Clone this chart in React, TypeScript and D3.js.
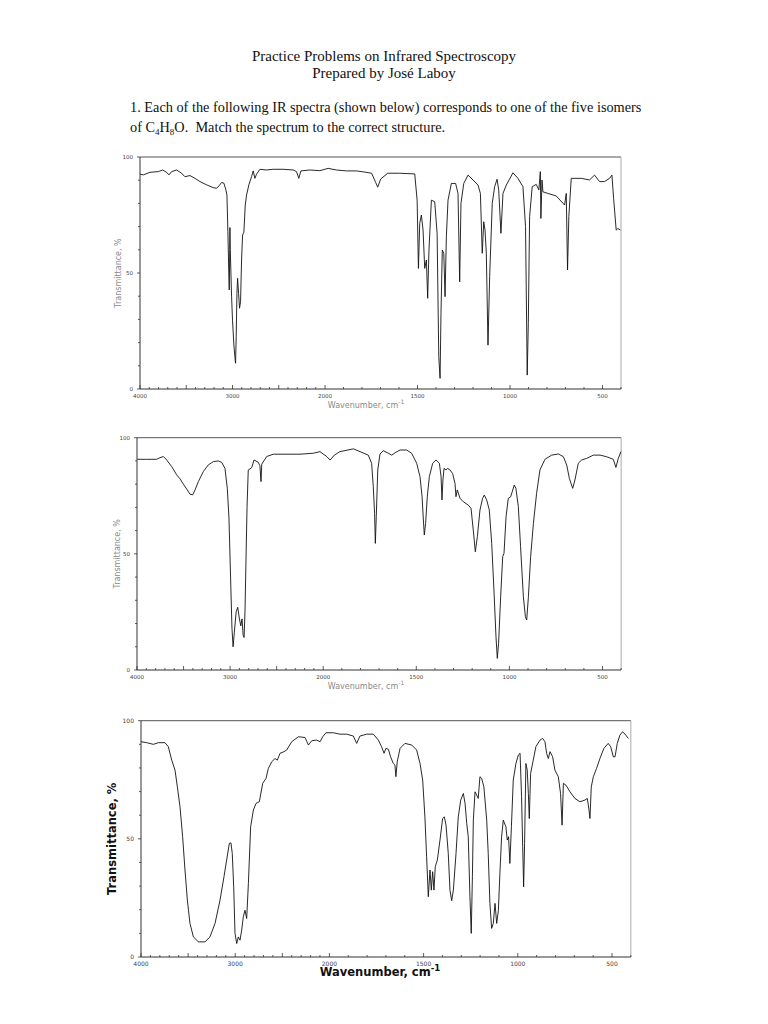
import React from 'react';
import * as d3 from 'd3';

const headerLines = ['Practice Problems on Infrared Spectroscopy', 'Prepared by José Laboy'];
const xTickLabels = [4000, 3000, 2000, 1500, 1000, 500];
const xMediumTicks = [3500, 2500];
const yTickLabels = [0, 50, 100];
const wnBreaks = [4000, 2000, 400];

// Spectrum 1
const spec1Wn = [4000,3964,3892,3802,3755,3712,3687,3658,3604,3550,3514,3460,3406,3352,3280,3208,3172,3143,3118,3093,3071,3060,3050,3040,3035,3030,3028,3024,3010,3000,2985,2974,2967,2960,2952,2945,2934,2924,2913,2902,2891,2877,2862,2848,2823,2794,2776,2758,2740,2704,2632,2560,2452,2344,2308,2283,2261,2164,2056,1983,1938,1884,1830,1785,1748,1726,1715,1699,1661,
1596,1515,1502,1495,1488,1479,1470,1461,1452,1445,1438,1425,1407,1394,1385,1378,1373,1366,1358,1351,1344,1335,1317,1294,1281,1272,1265,1250,1227,1200,1173,1160,1150,1142,1135,1128,1119,1110,1096,1083,1070,1061,1049,1038,1020,984,957,930,916,907,901,894,880,858,844,836,833,827,822,795,750,705,696,689,682,669,615,570,543,516,489,462,449,440,426,417,404];
const spec1T = [92.6,92.3,93.4,93.7,94.4,93.4,92.3,93.7,94.4,93.0,91.5,92.0,90.8,89.4,88.0,86.8,86.5,87.7,89.0,88.7,85.8,83.6,67.8,50,42.7,60,69.6,60,40,29.7,19,13.9,11.1,22.5,41.2,47.7,41.2,34.8,37.6,55.6,66.4,67.6,79.3,83.6,88,91.5,94,90.8,92.6,94.7,94.4,94.7,94.7,94.4,93.7,90.8,94,94.4,94.1,95.1,94.4,94,94,93.5,93,89,87,90.5,93,
93.0,92.7,81.4,52.0,71.4,75.0,68.5,52.0,55.6,39.1,59.9,81.4,80.7,67.1,13.9,4.6,32.6,59.9,58.5,39.8,65.6,81.4,88.6,88.6,84.3,46.2,80.0,88.6,92.2,90.1,87.9,84.3,58.5,72.1,68.5,58.5,18.9,48.4,80.0,87.2,90.4,85.8,67.1,84.3,87.9,93.2,90.8,87.2,70.0,6.0,28.3,74.3,87.2,88.2,85.8,93.7,73.5,90.1,85.0,84.3,83.2,79.3,84.3,51.3,74.3,90.8,90.8,90.1,92.2,89.4,89.4,90.8,92.2,82.2,68.5,69.2,68.5];

// Spectrum 2
const spec2Wn = [3996,3896,3789,3753,3717,3681,3628,3574,3538,3502,3459,3431,3402,3377,3341,3288,3234,3180,3127,3091,3055,3030,3012,2995,2980,2968,2955,2935,2918,2900,2885,2872,2860,2850,2840,2828,2818,2805,2768,2743,2700,2680,2668,2660,2607,2536,2400,2249,2106,2035,1981,1963,1940,1910,1838,
1802,1758,1740,1731,1724,1720,1715,1707,1695,1677,1650,1632,1614,1587,1552,1525,1498,1480,1469,1462,1457,1450,1441,1430,1412,1394,1376,1367,1362,1357,1351,1340,1332,1319,1305,1292,1287,1280,1265,1247,1221,1206,1194,1183,1172,1158,1144,1135,1122,1108,1095,1083,1072,1065,1058,1047,1036,1029,1018,1006,993,982,974,965,952,940,925,914,907,898,886,871,854,836,809,773,737,710,692,678,660,648,630,612,585,549,513,478,442,428,415,401];
const spec2T = [90.7,90.7,90.7,91.4,91.9,90.4,87.6,84,82.3,80,77.5,75.7,75.4,77.5,81.1,85.4,88.3,89.7,90,89.4,86.8,78.2,65.3,40,18,10,16,25,27,22,19,22,15,14,25,50,70,86.1,87.1,90.4,89.5,88,81.1,88.6,91.9,92.9,92.9,92.9,93.3,94,91.9,90.4,92.5,94,95.2,
94.0,92.5,89,78.9,67.4,54.5,66,86.1,93,94.4,93.3,92.5,93.5,94.7,94.7,93.3,89,83.2,74.6,64.6,58.1,63.1,74.6,83.2,89,90.4,89,83.2,73.2,81.8,86.8,86.1,86.8,86.1,84.6,80.3,74.6,77.5,73.9,72.4,71,69.6,60.2,50.9,57.4,68.9,73.9,75.3,73.2,68.9,54.5,34.4,14.3,5,11.5,31.5,48.8,50.2,66,73.9,74.6,77.5,79.6,78.2,70.3,53.1,31.5,22.9,21.5,31.5,48.8,63.1,76,86.1,90.7,92.5,93,91.8,88.2,82.5,78.2,81.8,89,90.4,91.1,92.5,92.5,91.8,90.7,87.2,91.1,94];

// Spectrum 3
const spec3Wn = [4000,3940,3869,3816,3745,3710,3674,3639,3614,3586,3558,3533,3508,3480,3444,3391,3321,3268,3214,3161,3119,3091,3062,3045,3031,3016,3002,2984,2967,2949,2931,2914,2896,2878,2860,2836,2807,2779,2744,2708,2673,2648,2613,2577,2553,2524,2482,2453,2400,2330,2259,2223,2188,2135,2099,2071,2036,1979,1944,1908,1873,1855,1838,1802,1767,1740,1723,1710,1700,1687,1675,1661,1652,1647,1640,
1625,1599,1563,1537,1519,1505,1493,1484,1475,1466,1459,1452,1445,1438,1427,1413,1399,1390,1381,1369,1360,1351,1342,1328,1316,1303,1289,1280,1271,1263,1254,1247,1241,1236,1227,1218,1210,1201,1192,1180,1165,1157,1148,1139,1130,1121,1112,1103,1095,1086,1077,1063,1056,1049,1042,1034,1024,1010,997,988,980,974,969,964,957,950,944,939,932,918,904,882,868,856,847,838,829,815,803,785,773,765,758,744,723,697,670,644,631,622,617,610,599,582,564,543,520,507,493,484,472,458,444,431,413];
const spec3T = [91.1,90.7,90,90.7,90.7,89,83.3,79.1,72,63.6,50.9,36.8,24.1,14.2,8.5,6.4,6.4,8.5,14.2,24.1,34,41,48.1,48.3,43.8,29.7,10,5.7,8.5,7.1,11.4,17,19.8,16.3,31.1,55.1,62.2,65,65.7,73.5,75.6,79.8,82.6,84,83.3,86.2,86.9,87.6,91.1,93.2,92.9,89.7,91.5,91.8,91.1,93.2,94.9,94.9,94.3,94.3,93.5,90.4,93.5,94.3,94.3,91.8,89,86.2,88.3,87.9,84.7,81.9,81.2,76.3,82.6,
88.3,90.4,89.7,87.6,81.9,74.9,59.3,42.4,25.5,36.8,28.3,36.1,28.3,38.2,41,49.5,58.6,59.3,55.8,43.8,28.3,23.8,28.3,43.8,59.3,66.4,69.2,65,56.5,50.9,25.5,10,34,57.9,69.9,68.5,67.1,76.3,75.6,72,57.9,43.8,22.7,12.1,14.2,22.7,14.2,19.8,35.4,50.9,57.9,55.1,49.5,50.9,39.6,55.1,74.9,81.9,85.5,86.2,67.8,46.7,29.7,48.1,81.9,79.1,69.2,58.6,77.7,83.3,89,91.8,92.5,91.1,86.2,84,86.9,84.7,79.1,76.3,69.2,55.8,73.5,72.7,69.9,67.1,65.7,66.4,67.1,62.2,58.6,72,76.3,79.8,84,88.3,90.4,89,84.7,84.7,90.4,93.9,95.3,94.3,92.5];

interface PanelProps {
  wn: number[];
  t: number[];
  x0: number;
  seg: number;
  top: number;
  bottom: number;
  bold?: boolean;
  xLabelX: number;
  yLabelX: number;
}

function Panel({ wn, t, x0, seg, top, bottom, bold, xLabelX, yLabelX }: PanelProps) {
  const x = d3.scaleLinear().domain(wnBreaks).range([x0, x0 + 2 * seg, x0 + 5.2 * seg]);
  const y = d3.scaleLinear().domain([0, 100]).range([bottom, top]);
  const right = x(400);
  const pts: [number, number][] = wn.map((w, i) => [w, t[i]]);
  const path = d3.line<[number, number]>().x(d => x(d[0])).y(d => y(d[1]))(pts) || '';
  const minor = d3.range(4000, 399, -100);
  const yMinor = d3.range(0, 101, 10);
  const tickFont = bold ? 6 : 5.5;
  const labelFont = bold ? 11.5 : 8;
  const labelFill = bold ? '#111' : '#8a8a8a';
  const labelWeight = bold ? 'bold' : 'normal';
  const midY = (top + bottom) / 2;
  return (
    <g>
      <line x1={x0} x2={right} y1={top} y2={top} stroke="#555" strokeWidth={1} />
      <line x1={right} x2={right} y1={top} y2={bottom} stroke="#aaa" strokeWidth={1} />
      <line x1={x0} x2={x0} y1={top} y2={bottom} stroke="#333" strokeWidth={1} />
      <line x1={x0} x2={right} y1={bottom} y2={bottom} stroke="#333" strokeWidth={1} />
      {minor.map(v => {
        const major = xTickLabels.includes(v);
        const med = xMediumTicks.includes(v);
        const len = major ? 4 : med ? 4 : 2;
        return <line key={'xt' + v} x1={x(v)} x2={x(v)} y1={bottom} y2={bottom - len} stroke="#333" strokeWidth={0.8} />;
      })}
      {xTickLabels.map(v => (
        <text key={'xl' + v} x={x(v)} y={bottom + 9} fontSize={tickFont} fill="#444" textAnchor="middle" fontFamily="DejaVu Sans">{v}</text>
      ))}
      {yMinor.map(v => (
        <line key={'yt' + v} x1={x0} x2={x0 - (yTickLabels.includes(v) ? 3 : 2)} y1={y(v)} y2={y(v)} stroke="#333" strokeWidth={0.8} />
      ))}
      {yTickLabels.map(v => (
        <text key={'yl' + v} x={x0 - 7} y={y(v) + 2} fontSize={tickFont} fill="#444" textAnchor="end" fontFamily="DejaVu Sans">{v}</text>
      ))}
      <path d={path} fill="none" stroke="#111" strokeWidth={0.9} strokeLinejoin="round" />
      <text x={xLabelX} y={bottom + 19} fontSize={labelFont} fill={labelFill} fontWeight={labelWeight} textAnchor="middle" fontFamily="DejaVu Sans">
        Wavenumber, cm<tspan dy={bold ? -5 : -4} fontSize={labelFont * 0.75}>-1</tspan>
      </text>
      <text transform={`translate(${yLabelX},${midY}) rotate(-90)`} fontSize={labelFont} fill={labelFill} fontWeight={labelWeight} textAnchor="middle" fontFamily="DejaVu Sans">
        Transmittance, %
      </text>
    </g>
  );
}

export default function App() {
  return (
    <svg width={768} height={1024} viewBox="0 0 768 1024" style={{ position: 'absolute', left: 0, top: 0, background: '#fff' }}>
      <rect x={0} y={0} width={768} height={1024} fill="#fff" />
      <g fontFamily="'Liberation Serif', 'Times New Roman', serif" fill="#111">
        <text x={384} y={61} textAnchor="middle" fontSize={15}>{headerLines[0]}</text>
        <text x={384} y={78} textAnchor="middle" fontSize={15}>{headerLines[1]}</text>
        <text x={130} y={112} fontSize={14.3}>1. Each of the following IR spectra (shown below) corresponds to one of the five isomers</text>
        <text x={130} y={132} fontSize={14.3}>
          {'of C'}
          <tspan fontSize={9} dy={3}>4</tspan>
          <tspan dy={-3}>H</tspan>
          <tspan fontSize={9} dy={3}>8</tspan>
          <tspan dy={-3}>{'O.\u00a0 Match the spectrum to the correct structure.'}</tspan>
        </text>
      </g>
      <Panel wn={spec1Wn} t={spec1T} x0={140} seg={92.5} top={157} bottom={389} xLabelX={366} yLabelX={121} />
      <Panel wn={spec2Wn} t={spec2T} x0={137} seg={93.1} top={437.7} bottom={670} xLabelX={366} yLabelX={120} />
      <Panel wn={spec3Wn} t={spec3T} x0={141} seg={94.2} top={720.7} bottom={957} bold xLabelX={380} yLabelX={116} />
    </svg>
  );
}
